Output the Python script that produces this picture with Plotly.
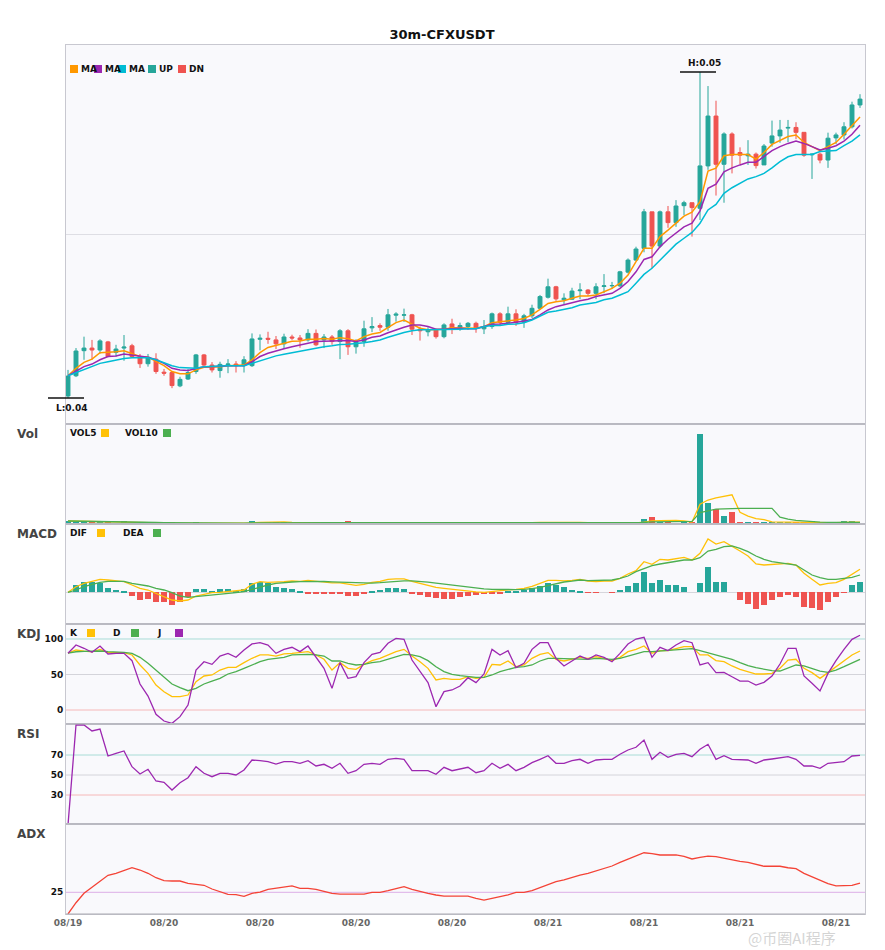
import plotly.graph_objects as go
from plotly.subplots import make_subplots

# ---- values (30m candles) ----
candle_idx = list(range(100))
tick_pos = [0, 12, 24, 36, 48, 60, 72, 84, 96]
tick_text = ["08/19", "08/20", "08/20", "08/20", "08/20", "08/21", "08/21", "08/21", "08/21"]

open_ = [0.04006, 0.04068, 0.04145, 0.04153, 0.04147, 0.04172, 0.04140, 0.04153, 0.04160, 0.04127,
         0.04105, 0.04119, 0.04079, 0.04078, 0.04037, 0.04058, 0.04081, 0.04132, 0.04101, 0.04084,
         0.04102, 0.04104, 0.04099, 0.04099, 0.04180, 0.04183, 0.04178, 0.04166, 0.04187, 0.04184,
         0.04178, 0.04198, 0.04178, 0.04187, 0.04173, 0.04206, 0.04157, 0.04173, 0.04215, 0.04222,
         0.04217, 0.04254, 0.04254, 0.04255, 0.04211, 0.04203, 0.04209, 0.04188, 0.04227, 0.04217,
         0.04219, 0.04229, 0.04212, 0.04219, 0.04258, 0.04232, 0.04258, 0.04232, 0.04252, 0.04275,
         0.04309, 0.04341, 0.04301, 0.04303, 0.04329, 0.04331, 0.04321, 0.04342, 0.04344, 0.04344,
         0.04386, 0.04423, 0.04459, 0.04571, 0.04466, 0.04571, 0.04538, 0.04590, 0.04599, 0.04582,
         0.04712, 0.04865, 0.04717, 0.04810, 0.04753, 0.04743, 0.04748, 0.04715, 0.04782, 0.04804,
         0.04828, 0.04830, 0.04815, 0.04746, 0.04748, 0.04730, 0.04798, 0.04807, 0.04832, 0.04899]
high = [0.04086, 0.04153, 0.04188, 0.04178, 0.04180, 0.04175, 0.04163, 0.04193, 0.04166, 0.04135,
        0.04135, 0.04137, 0.04089, 0.04080, 0.04065, 0.04089, 0.04135, 0.04135, 0.04110, 0.04111,
        0.04119, 0.04113, 0.04128, 0.04198, 0.04195, 0.04203, 0.04190, 0.04197, 0.04194, 0.04193,
        0.04211, 0.04210, 0.04196, 0.04193, 0.04211, 0.04211, 0.04180, 0.04237, 0.04248, 0.04229,
        0.04273, 0.04263, 0.04274, 0.04258, 0.04219, 0.04217, 0.04213, 0.04229, 0.04243, 0.04231,
        0.04233, 0.04234, 0.04239, 0.04262, 0.04263, 0.04280, 0.04272, 0.04258, 0.04286, 0.04316,
        0.04366, 0.04344, 0.04321, 0.04338, 0.04352, 0.04334, 0.04352, 0.04380, 0.04356, 0.04390,
        0.04428, 0.04464, 0.04580, 0.04571, 0.04575, 0.04589, 0.04607, 0.04605, 0.04599, 0.05000,
        0.04957, 0.04912, 0.04815, 0.04815, 0.04769, 0.04791, 0.04753, 0.04779, 0.04851, 0.04853,
        0.04853, 0.04846, 0.04815, 0.04750, 0.04753, 0.04814, 0.04814, 0.04846, 0.04909, 0.04932]
low = [0.04000, 0.04064, 0.04117, 0.04117, 0.04136, 0.04125, 0.04127, 0.04114, 0.04124, 0.04092,
       0.04096, 0.04074, 0.04068, 0.04030, 0.04033, 0.04055, 0.04074, 0.04098, 0.04078, 0.04062,
       0.04076, 0.04078, 0.04078, 0.04095, 0.04146, 0.04166, 0.04150, 0.04150, 0.04178, 0.04154,
       0.04173, 0.04159, 0.04153, 0.04163, 0.04119, 0.04132, 0.04136, 0.04157, 0.04202, 0.04206,
       0.04206, 0.04234, 0.04233, 0.04193, 0.04176, 0.04189, 0.04182, 0.04183, 0.04196, 0.04206,
       0.04209, 0.04200, 0.04196, 0.04212, 0.04221, 0.04230, 0.04221, 0.04215, 0.04245, 0.04272,
       0.04305, 0.04298, 0.04288, 0.04301, 0.04303, 0.04313, 0.04303, 0.04321, 0.04334, 0.04340,
       0.04382, 0.04421, 0.04447, 0.04398, 0.04460, 0.04522, 0.04525, 0.04561, 0.04495, 0.04546,
       0.04700, 0.04621, 0.04599, 0.04689, 0.04717, 0.04715, 0.04704, 0.04715, 0.04771, 0.04783,
       0.04785, 0.04794, 0.04740, 0.04672, 0.04720, 0.04706, 0.04779, 0.04793, 0.04827, 0.04890]
close = [0.04067, 0.04144, 0.04153, 0.04147, 0.04175, 0.04127, 0.04150, 0.04156, 0.04127, 0.04105,
         0.04125, 0.04081, 0.04076, 0.04038, 0.04057, 0.04078, 0.04132, 0.04101, 0.04086, 0.04103,
         0.04104, 0.04099, 0.04117, 0.04181, 0.04183, 0.04180, 0.04166, 0.04187, 0.04184, 0.04178,
         0.04198, 0.04163, 0.04187, 0.04173, 0.04206, 0.04157, 0.04173, 0.04212, 0.04219, 0.04217,
         0.04255, 0.04257, 0.04255, 0.04211, 0.04206, 0.04209, 0.04188, 0.04224, 0.04211, 0.04222,
         0.04229, 0.04214, 0.04219, 0.04258, 0.04232, 0.04258, 0.04232, 0.04252, 0.04275, 0.04311,
         0.04341, 0.04304, 0.04306, 0.04328, 0.04331, 0.04321, 0.04341, 0.04344, 0.04345, 0.04387,
         0.04423, 0.04457, 0.04571, 0.04466, 0.04571, 0.04538, 0.04589, 0.04599, 0.04584, 0.04712,
         0.04865, 0.04717, 0.04810, 0.04745, 0.04745, 0.04748, 0.04713, 0.04773, 0.04804, 0.04822,
         0.04830, 0.04815, 0.04745, 0.04748, 0.04730, 0.04797, 0.04807, 0.04832, 0.04899, 0.04917]

ma_fast = [0.04068, 0.04091, 0.04109, 0.04119, 0.04139, 0.04140, 0.04142, 0.04145, 0.04135, 0.04127,
           0.04125, 0.04113, 0.04099, 0.04081, 0.04074, 0.04074, 0.04086, 0.04094, 0.04094, 0.04096,
           0.04099, 0.04099, 0.04101, 0.04117, 0.04139, 0.04155, 0.04162, 0.04168, 0.04174, 0.04175,
           0.04180, 0.04180, 0.04182, 0.04180, 0.04185, 0.04182, 0.04175, 0.04188, 0.04196, 0.04201,
           0.04217, 0.04231, 0.04239, 0.04227, 0.04214, 0.04209, 0.04209, 0.04211, 0.04215, 0.04214,
           0.04214, 0.04214, 0.04219, 0.04231, 0.04234, 0.04236, 0.04239, 0.04244, 0.04255, 0.04272,
           0.04290, 0.04295, 0.04298, 0.04306, 0.04313, 0.04313, 0.04316, 0.04326, 0.04336, 0.04352,
           0.04377, 0.04418, 0.04459, 0.04459, 0.04495, 0.04515, 0.04538, 0.04558, 0.04570, 0.04602,
           0.04696, 0.04705, 0.04743, 0.04747, 0.04747, 0.04747, 0.04733, 0.04753, 0.04778, 0.04790,
           0.04802, 0.04807, 0.04784, 0.04771, 0.04759, 0.04771, 0.04784, 0.04809, 0.04835, 0.04862]
ma_mid = [0.04068, 0.04081, 0.04096, 0.04104, 0.04117, 0.04127, 0.04129, 0.04135, 0.04132, 0.04127,
          0.04125, 0.04117, 0.04106, 0.04091, 0.04086, 0.04084, 0.04091, 0.04096, 0.04096, 0.04098,
          0.04099, 0.04099, 0.04099, 0.04111, 0.04127, 0.04137, 0.04145, 0.04151, 0.04157, 0.04162,
          0.04166, 0.04173, 0.04174, 0.04174, 0.04176, 0.04176, 0.04173, 0.04178, 0.04186, 0.04190,
          0.04200, 0.04209, 0.04217, 0.04224, 0.04224, 0.04219, 0.04211, 0.04211, 0.04213, 0.04214,
          0.04212, 0.04212, 0.04219, 0.04226, 0.04227, 0.04229, 0.04232, 0.04236, 0.04241, 0.04255,
          0.04270, 0.04280, 0.04285, 0.04292, 0.04298, 0.04303, 0.04311, 0.04316, 0.04321, 0.04336,
          0.04357, 0.04387, 0.04425, 0.04433, 0.04464, 0.04487, 0.04505, 0.04525, 0.04536, 0.04574,
          0.04643, 0.04656, 0.04694, 0.04706, 0.04715, 0.04723, 0.04723, 0.04740, 0.04759, 0.04771,
          0.04781, 0.04788, 0.04781, 0.04771, 0.04761, 0.04766, 0.04774, 0.04788, 0.04809, 0.04837]
ma_slow = [0.04068, 0.04078, 0.04088, 0.04096, 0.04106, 0.04111, 0.04117, 0.04121, 0.04123, 0.04123,
           0.04123, 0.04117, 0.04108, 0.04099, 0.04093, 0.04091, 0.04091, 0.04096, 0.04096, 0.04098,
           0.04099, 0.04099, 0.04099, 0.04106, 0.04114, 0.04122, 0.04129, 0.04134, 0.04139, 0.04144,
           0.04149, 0.04154, 0.04157, 0.04160, 0.04164, 0.04165, 0.04166, 0.04169, 0.04173, 0.04178,
           0.04186, 0.04194, 0.04201, 0.04206, 0.04209, 0.04209, 0.04209, 0.04211, 0.04211, 0.04211,
           0.04212, 0.04212, 0.04219, 0.04222, 0.04222, 0.04226, 0.04227, 0.04231, 0.04239, 0.04252,
           0.04263, 0.04267, 0.04272, 0.04277, 0.04285, 0.04290, 0.04293, 0.04301, 0.04306, 0.04316,
           0.04326, 0.04352, 0.04379, 0.04398, 0.04423, 0.04449, 0.04472, 0.04490, 0.04508, 0.04536,
           0.04577, 0.04594, 0.04628, 0.04645, 0.04659, 0.04672, 0.04679, 0.04689, 0.04706, 0.04725,
           0.04740, 0.04747, 0.04747, 0.04747, 0.04756, 0.04758, 0.04759, 0.04774, 0.04788, 0.04807]

volume = [3, 2.5, 2.5, 2.5, 1.5, 1.2, 0.8, 3, 1, 1,
          0.8, 1, 0.7, 1.2, 1, 0.8, 1.5, 1, 0.8, 0.7,
          0.7, 0.6, 0.8, 3, 2.5, 2, 1.5, 1.5, 1, 1,
          1.5, 1.2, 1, 0.8, 1.5, 3, 1, 1.5, 1.2, 0.8,
          1.8, 1, 1, 1.5, 1, 0.8, 1, 1.2, 1, 0.7,
          0.8, 0.8, 0.8, 1.5, 1.5, 1.5, 1.5, 1.2, 1.5, 2,
          2.5, 1.5, 1, 1, 1.2, 0.8, 0.8, 1.5, 0.8, 1.2,
          1.2, 1.5, 5, 7, 2.3, 2.3, 1, 2.3, 2.3, 90,
          21, 14.7, 8, 12.3, 2.3, 2.3, 2.3, 2.3, 1.5, 1.5,
          1.3, 1.3, 1.3, 2.7, 0.5, 1.3, 1.3, 3.3, 2.7, 1]
vol5 = [3, 2.8, 2.6, 2.6, 2.3, 2.1, 1.7, 1.8, 1.6, 1.3,
        1.3, 1.3, 0.9, 0.9, 0.9, 0.9, 1.1, 1.1, 1.0, 1.0,
        0.9, 0.8, 0.7, 1.2, 1.5, 1.8, 2.0, 2.1, 1.7, 1.4,
        1.3, 1.2, 1.1, 1.1, 1.2, 1.5, 1.5, 1.6, 1.6, 1.6,
        1.3, 1.3, 1.3, 1.3, 1.3, 1.1, 1.1, 1.1, 1.0, 0.9,
        0.9, 0.9, 0.8, 0.9, 1.1, 1.2, 1.4, 1.4, 1.4, 1.6,
        1.8, 1.7, 1.7, 1.7, 1.6, 1.1, 1.0, 1.1, 1.0, 1.1,
        1.1, 1.2, 1.9, 3.2, 3.4, 3.6, 3.5, 3.0, 2.0, 19.8,
        24.0, 26.1, 27.5, 29.2, 11.7, 7.9, 5.4, 4.3, 2.1, 1.9,
        1.8, 1.6, 1.4, 1.6, 1.4, 1.4, 1.4, 1.8, 1.9, 1.8]
vol10 = [3, 2.8, 2.6, 2.6, 2.4, 2.2, 2.0, 2.1, 1.9, 1.8,
         1.6, 1.5, 1.4, 1.3, 1.1, 1.1, 1.1, 1.1, 1.0, 1.0,
         1.0, 0.9, 0.9, 1.1, 1.2, 1.3, 1.4, 1.5, 1.5, 1.5,
         1.6, 1.6, 1.5, 1.4, 1.3, 1.4, 1.4, 1.4, 1.4, 1.4,
         1.4, 1.4, 1.4, 1.4, 1.4, 1.3, 1.2, 1.2, 1.1, 1.1,
         1.0, 1.0, 1.0, 1.0, 1.0, 1.1, 1.2, 1.2, 1.3, 1.4,
         1.5, 1.6, 1.5, 1.5, 1.5, 1.5, 1.4, 1.4, 1.3, 1.3,
         1.2, 1.2, 1.5, 2.1, 2.3, 2.5, 2.5, 2.6, 2.6, 11.5,
         13.5, 14.8, 15.1, 15.6, 15.6, 15.6, 15.7, 15.7, 15.6, 6.8,
         4.8, 3.6, 2.9, 2.0, 1.8, 1.7, 1.6, 1.7, 1.8, 1.6]

dif = [0, 5.6, 9, 11.3, 13, 12.3, 11.3, 10.7, 7.3, 4,
       2.3, -1, -4.3, -7.7, -8.7, -7.7, -3.7, -2, -0.3, 0,
       0.7, 1, 2.3, 8, 10.7, 10, 10, 10.7, 11.3, 11,
       12, 11, 10.5, 9.5, 9.5, 8, 7, 8, 10, 11,
       13, 13.5, 13.5, 11, 9, 7, 5, 4, 3, 2,
       1.5, 0.5, 0, 1, 1.5, 2.5, 3, 4, 6, 9,
       12, 12, 11.5, 12, 13, 11.3, 10.7, 11.3, 11.3, 14,
       18.3, 21.6, 30.6, 28, 33, 32.3, 34, 35, 32.3, 39,
       53.3, 48.3, 50.6, 46.3, 41.3, 36.3, 28.3, 27.3, 28, 29,
       29, 27.3, 19, 13, 7.3, 9, 9.7, 13, 18.3, 23]
dea = [0, 2.3, 5.7, 8, 10, 11, 11, 11, 9, 7.7,
       6.3, 4, 2.3, -0.3, -3.7, -5, -4.3, -3.7, -2.7, -1.7,
       -1, -0.3, 0.7, 3, 5.7, 7.3, 9, 10, 10.3, 10.7,
       10.9, 10.9, 10.8, 10.5, 10.3, 9.8, 9.2, 9, 9.2, 9.6,
       10.3, 11, 11.5, 11.4, 11, 10.2, 9.2, 8.2, 7.2, 6.2,
       5.3, 4.3, 3.5, 3, 2.7, 2.6, 2.7, 3, 3.6, 5,
       7, 9, 10.3, 11.2, 12.3, 11.7, 11.7, 11.7, 12.3, 14,
       16.3, 20.6, 24, 26.6, 28.3, 29.6, 31, 32.3, 32.3, 34.6,
       41.3, 43, 45.6, 46.3, 44, 40.6, 36.3, 33, 30.6, 29.6,
       29, 27.3, 22.3, 17.3, 14.6, 13, 13, 14, 15, 17.3]
macd_hist = [0, 7.3, 10, 10, 9, 4, 2.3, 0.7, -3.7, -7.7,
             -6.7, -9.3, -9.3, -12.7, -9.3, -4.3, 3, 3, 1.3, 3,
             3, 1.3, 3, 9, 10, 9, 5.7, 4, 3, 0.7,
             -1, -1.5, -1.5, -2, -2, -3.5, -3.5, -1.5, 1.5, 2.5,
             4, 4.5, 3.5, -1, -3, -5, -6, -6.5, -6.5, -5,
             -3.5, -3, -2, -1.5, -1, 1, 1.5, 2.5, 4.5, 6.5,
             9, 7, 5, 2.5, 1, -0.7, -0.7, 0, -0.7, 2,
             6.3, 9, 20, 9, 12.3, 7.3, 7.3, 5, 0, 9,
             25.3, 10.3, 10.3, 0, -7.7, -11.7, -16.7, -12.7, -7.7, -4.3,
             -2.3, -5, -14.3, -16, -17.7, -9.7, -4.7, -0.7, 7.3, 10.3]

k_line = [80, 84.5, 83, 82, 85.4, 81, 80.8, 80.8, 77.5, 63.4,
          51.6, 35.2, 25.8, 18.8, 18.8, 21.1, 40, 47.9, 49.3, 56.3,
          60.1, 60.1, 66.7, 72.8, 77.5, 77.5, 76, 78.9, 79.8, 80.8,
          82.2, 77.5, 71.4, 56.3, 66.7, 58.7, 57.3, 64.3, 69.5, 72.8,
          77.5, 82.2, 85.4, 76, 68, 58.7, 42.3, 44.6, 43.2, 43.2,
          47, 44.6, 46, 64.3, 63.4, 69, 61, 63.4, 72.8, 78.4,
          80.8, 71.4, 69, 71.4, 74.2, 72.8, 75.1, 72.8, 69.5, 74.2,
          82.2, 85.4, 90.1, 79.8, 83.6, 83.6, 86.9, 89.2, 89.2, 77.5,
          77.5, 69.5, 68, 62, 57.3, 54, 50.7, 50.7, 51.6, 58.7,
          70.4, 71.4, 58.7, 52.6, 44.6, 52.6, 61, 70.4, 77.5, 83.1]
d_line = [80, 82, 82.6, 83.1, 83.1, 82.2, 82.2, 81.2, 79.8, 74.2,
          65.7, 56.3, 47, 36.6, 31.5, 27.2, 30.5, 36.6, 40.8, 44.6,
          50.7, 54, 58.7, 63.4, 68, 71.4, 72.3, 74.2, 77.5, 78,
          78.4, 77.5, 76, 69, 69, 65.7, 63.4, 64.3, 66.7, 68,
          71.4, 75.1, 78.4, 77.5, 75.1, 69.5, 61, 54, 50.2, 48.4,
          47, 46, 46, 49.3, 54, 57.3, 60.1, 61, 63.4, 69,
          72.8, 72.8, 72.3, 72, 71.4, 71.4, 72.8, 72.3, 71.4, 72.8,
          76, 78.4, 82.2, 82.2, 83.1, 83.1, 84.5, 85.4, 86.4, 83.6,
          80.8, 77.5, 75.1, 71.4, 66.7, 62.4, 59.6, 57.3, 55.4, 54.9,
          58.7, 63.4, 62, 58.7, 54.9, 53, 56.3, 61, 65.7, 71.4]
j_line = [80, 91.5, 86.9, 81.2, 90.1, 78.9, 79.8, 79.8, 69.5, 36.6,
          19.7, -6.1, -15.5, -18.8, -9.4, 7, 56.3, 68, 64.3, 76,
          79.8, 74.2, 84.5, 93, 94.8, 91.5, 79.8, 85.4, 88.3, 82.2,
          90.1, 75.1, 58.7, 30.5, 66.7, 44.6, 47, 66.7, 78.4, 81.2,
          93.9, 100.9, 99.5, 70.4, 54, 38.5, 4.7, 25.8, 28.2, 33.8,
          45.5, 38.5, 50.7, 85.4, 77.5, 83.6, 59.6, 65.7, 85.4, 94.8,
          94.8, 72.8, 62, 69.5, 76, 71.4, 77.5, 74.2, 68, 79.8,
          93, 100, 102.3, 74.2, 88.3, 83.6, 91.5, 97.7, 94.8, 63.4,
          66.7, 52.6, 53, 46.9, 40.8, 40.8, 35.2, 39, 47.9, 64.8,
          86.9, 86.9, 47.9, 37.6, 26.8, 51.6, 69.5, 85.4, 99.5, 105.2]

rsi = [0, 100, 100, 94, 96, 69, 71.7, 74, 58.3, 51,
       55.7, 44, 42.7, 35, 42.3, 47.3, 58.3, 51.7, 48.3, 51.7,
       51.7, 50, 55, 65, 64.3, 63.3, 61, 63.3, 63.3, 61.7,
       64.3, 59, 60.7, 56.7, 61.7, 51.7, 54.3, 60.7, 61.7, 60.7,
       65.7, 66.7, 65.7, 54.3, 54.3, 54.3, 50.7, 57.7, 54.3, 55.7,
       57.7, 52.3, 54.3, 61.7, 56.7, 60.7, 54.3, 57.7, 62.3, 65.7,
       69.3, 61.7, 61.7, 64.3, 65.7, 61.7, 65, 65.7, 65.7, 70.7,
       75, 77.7, 85, 65.7, 72.7, 67.7, 70.7, 71.7, 68.3, 75.7,
       80.7, 65.7, 69.3, 65.7, 65, 65, 61.7, 65, 66, 67.3,
       68.3, 65.7, 59, 59, 56.7, 61.7, 62.7, 63.3, 69, 69.7]

adx = [0, 13, 23.8, 30.7, 37.2, 44.6, 46.9, 49.9, 53.3, 50.7,
       46.9, 41.8, 38.4, 38, 38, 35.4, 34.2, 33.1, 28.8, 25.7,
       22.7, 22.3, 20.4, 23.8, 25.3, 28.5, 29.6, 30.8, 32.3, 29.6,
       29.6, 28.4, 25.7, 23.8, 23, 23, 23, 23, 25, 25,
       26.9, 29.6, 31.5, 28.4, 25.7, 23.8, 21.9, 20.7, 20.7, 20.7,
       20.7, 18, 16.1, 18, 20, 21.9, 25, 25, 26.9, 30.3,
       34.6, 37.2, 39.2, 42.3, 44.9, 46.9, 49.9, 52.2, 55.3, 59.5,
       63.4, 66.8, 70.6, 69.5, 68, 68, 68, 66.5, 63.4, 65.3,
       66.8, 66, 64.2, 61.9, 60.7, 59.5, 57.6, 55, 55, 55,
       53.3, 52.2, 46.9, 43, 38.8, 34.9, 32.3, 32.3, 33, 35.7]

kdj_levels = [100, 50, 0]
rsi_levels = [70, 50, 30]
adx_levels = [25]

# ---- styling ----
UP, DN = "#26a69a", "#ef5350"
ORANGE, PURPLE, CYAN = "#ff9800", "#9c27b0", "#00bcd4"
YELLOW, GREEN = "#ffc107", "#4caf50"
LEVEL_COLORS = {"high": "#a8dcd6", "mid": "#d4d4da", "low": "#f6b8b8"}
FONT = "DejaVu Sans"

# the page body adds an 8px margin, so the figure is drawn 8px smaller
# and all page-pixel positions below are shifted by that offset
PAGE_OFF = 8
W, H = 885 - PAGE_OFF, 950 - PAGE_OFF
ML, MR, MT, MB = 66 - PAGE_OFF, 20, 45 - PAGE_OFF, 36
PW, PH = W - ML - MR, H - MT - MB
XMIN, XMAX = -0.25, 99.625
PRICE_RANGE = [0.0392, 0.05083]


def px(x, y):
    """page pixel position -> paper coordinates"""
    x, y = x - PAGE_OFF, y - PAGE_OFF
    return (x - ML) / PW, (MT + PH - y) / PH


fig = make_subplots(rows=6, cols=1, shared_xaxes=True, vertical_spacing=0,
                    row_heights=[379, 100, 100, 100, 100, 90])

# price panel
fig.add_trace(go.Candlestick(
    x=candle_idx, open=open_, high=high, low=low, close=close,
    increasing=dict(line=dict(color=UP, width=1), fillcolor=UP),
    decreasing=dict(line=dict(color=DN, width=1), fillcolor=DN),
    whiskerwidth=0), row=1, col=1)
for series, col in [(ma_fast, ORANGE), (ma_mid, PURPLE), (ma_slow, CYAN)]:
    fig.add_trace(go.Scatter(x=candle_idx, y=series, mode="lines",
                             line=dict(color=col, width=1.5)), row=1, col=1)

# volume
vol_colors = [UP if c >= o else DN for o, c in zip(open_, close)]
fig.add_trace(go.Bar(x=candle_idx, y=volume, marker_color=vol_colors,
                     marker_line_width=0, width=0.72), row=2, col=1)
fig.add_trace(go.Scatter(x=candle_idx, y=vol5, mode="lines", line=dict(color=YELLOW, width=1.3)), row=2, col=1)
fig.add_trace(go.Scatter(x=candle_idx, y=vol10, mode="lines", line=dict(color=GREEN, width=1.3)), row=2, col=1)

# macd
hist_colors = [UP if v >= 0 else DN for v in macd_hist]
fig.add_trace(go.Bar(x=candle_idx, y=macd_hist, marker_color=hist_colors,
                     marker_line_width=0, width=0.72), row=3, col=1)
fig.add_trace(go.Scatter(x=candle_idx, y=dif, mode="lines", line=dict(color=YELLOW, width=1.3)), row=3, col=1)
fig.add_trace(go.Scatter(x=candle_idx, y=dea, mode="lines", line=dict(color=GREEN, width=1.3)), row=3, col=1)

# kdj
for series, col in [(k_line, YELLOW), (d_line, GREEN), (j_line, PURPLE)]:
    fig.add_trace(go.Scatter(x=candle_idx, y=series, mode="lines", line=dict(color=col, width=1.3)), row=4, col=1)

# rsi / adx
fig.add_trace(go.Scatter(x=candle_idx, y=rsi, mode="lines", line=dict(color=PURPLE, width=1.3)), row=5, col=1)
fig.add_trace(go.Scatter(x=candle_idx, y=adx, mode="lines", line=dict(color="#f44336", width=1.3)), row=6, col=1)

# reference levels
for row, levels, cols in [(4, kdj_levels, ["high", "mid", "low"]),
                          (5, rsi_levels, ["high", "mid", "low"])]:
    for lvl, c in zip(levels, cols):
        fig.add_hline(y=lvl, line=dict(color=LEVEL_COLORS[c], width=1), layer="below", row=row, col=1)
for lvl in adx_levels:
    fig.add_hline(y=lvl, line=dict(color="#dcaee6", width=1), layer="below", row=6, col=1)

# axes
frame = dict(showline=True, mirror=True, linecolor="#c8c8d0", linewidth=1, zeroline=False, showgrid=False)
for r in range(1, 7):
    fig.update_xaxes(range=[XMIN, XMAX], ticks="", **frame, row=r, col=1)
fig.update_xaxes(showticklabels=True, tickvals=tick_pos, ticktext=tick_text,
                 tickfont=dict(family=FONT, size=9, color="#666", weight="bold"), row=6, col=1)
fig.update_xaxes(rangeslider_visible=False, row=1, col=1)

tick_font = dict(family=FONT, size=9, color="#111", weight="bold")
fig.update_yaxes(range=PRICE_RANGE, tickvals=[0.045], showticklabels=False, ticks="",
                 showline=True, mirror=True, linecolor="#c8c8d0", zeroline=False,
                 showgrid=True, gridcolor="#dedee4", row=1, col=1)
fig.update_yaxes(range=[0, 100], showticklabels=False, ticks="", **frame, row=2, col=1)
fig.update_yaxes(range=[-31.7, 68.3], showticklabels=False, ticks="",
                 showline=True, mirror=True, linecolor="#c8c8d0", showgrid=False,
                 zeroline=True, zerolinecolor="#d6d6dc", zerolinewidth=1, row=3, col=1)
fig.update_yaxes(range=[-19.7, 121.1], tickvals=kdj_levels, tickfont=tick_font, ticks="", **frame, row=4, col=1)
fig.update_yaxes(range=[1, 101], tickvals=rsi_levels, tickfont=tick_font, ticks="", **frame, row=5, col=1)
fig.update_yaxes(range=[0, 103.7], tickvals=adx_levels, tickfont=tick_font, ticks="", **frame, row=6, col=1)

annotations = []
shapes = []


def label(text, x, y, size=9, color="#111", anchor="left"):
    ax, ay = px(x, y)
    annotations.append(dict(text=text, x=ax, y=ay, xref="paper", yref="paper", showarrow=False,
                            xanchor=anchor, yanchor="middle",
                            font=dict(family=FONT, size=size, color=color, weight="bold")))


def square(x, y, color, size=8):
    x0, y0 = px(x, y + size / 2)
    x1, y1 = px(x + size, y - size / 2)
    shapes.append(dict(type="rect", xref="paper", yref="paper", x0=x0, x1=x1, y0=y0, y1=y1,
                       fillcolor=color, line=dict(width=0), layer="above"))


# darker separators between the stacked panels
for sep_y in [424, 524, 624, 724, 824, 914]:
    x0, y0 = px(66, sep_y)
    x1, _ = px(865, sep_y)
    shapes.append(dict(type="line", xref="paper", yref="paper", x0=x0, x1=x1, y0=y0, y1=y0,
                       line=dict(color="#ababb3", width=1), layer="above"))

# panel names
for name, y in [("Vol", 434), ("MACD", 534), ("KDJ", 634), ("RSI", 734), ("ADX", 834)]:
    label(name, 15, y, size=12, color="#444")

# price legend (square then text)
for text, col, x in [("MA", ORANGE, 70), ("MA", PURPLE, 94), ("MA", CYAN, 118), ("UP", UP, 148), ("DN", DN, 178)]:
    label(text, x + 9, 69)
    square(x, 69, col)

# indicator legends (text then square)
for y, items in [(433, [("VOL5", YELLOW, 68, 101), ("VOL10", GREEN, 123, 163)]),
                 (533, [("DIF", YELLOW, 68, 97), ("DEA", GREEN, 121, 153)]),
                 (633, [("K", YELLOW, 68, 87), ("D", GREEN, 111, 131), ("J", PURPLE, 155, 175)])]:
    for text, col, tx, sx in items:
        label(text, tx, y)
        square(sx, y, col)

# high / low markers
price_d0, price_d1 = fig.layout.yaxis.domain


def price_paper(i, p):
    xp = (i - XMIN) / (XMAX - XMIN)
    yp = price_d0 + (p - PRICE_RANGE[0]) / (PRICE_RANGE[1] - PRICE_RANGE[0]) * (price_d1 - price_d0)
    return xp, yp


hi_val = max(high)
hi_i = high.index(hi_val)
lo_val = min(low)
lo_i = low.index(lo_val)
for i, val, text, anchor, shift in [(hi_i, hi_val, f"H:{hi_val:.2f}", "bottom", 2),
                                    (lo_i, lo_val, f"L:{lo_val:.2f}", "top", -3)]:
    x0, y0 = price_paper(i - 2.5, val)
    x1, _ = price_paper(i + 2.0, val)
    shapes.append(dict(type="line", xref="paper", yref="paper", x0=x0, x1=x1, y0=y0, y1=y0,
                       line=dict(color="#111", width=1.5), layer="above"))
    annotations.append(dict(text=text, x=i + 0.5, y=val, xref="x", yref="y", showarrow=False,
                            xanchor="center", yanchor=anchor, yshift=shift,
                            font=dict(family=FONT, size=9, color="#111", weight="bold")))

# watermark, kept just below the date labels so the two do not collide
wx, wy = px(792, 937)
annotations.append(dict(text="@币圈AI程序", x=wx, y=wy, xref="paper", yref="paper", showarrow=False,
                        xanchor="center", yanchor="middle", borderpad=0,
                        font=dict(family="Noto Sans CJK SC", size=15, color="rgba(170,170,170,0.5)")))

fig.update_layout(
    width=W, height=H,
    margin=dict(l=ML, r=MR, t=MT, b=MB),
    paper_bgcolor="white", plot_bgcolor="#f9f9fc",
    showlegend=False, hovermode=False, bargap=0,
    title=dict(text="30m-CFXUSDT", x=(442 - PAGE_OFF) / W, xref="container",
               y=1 - (34 - PAGE_OFF) / H, yanchor="middle",
               font=dict(family=FONT, size=13, color="#111", weight="bold")),
    annotations=list(fig.layout.annotations) + annotations,
    shapes=list(fig.layout.shapes) + shapes,
)

fig.write_html("out.html")
